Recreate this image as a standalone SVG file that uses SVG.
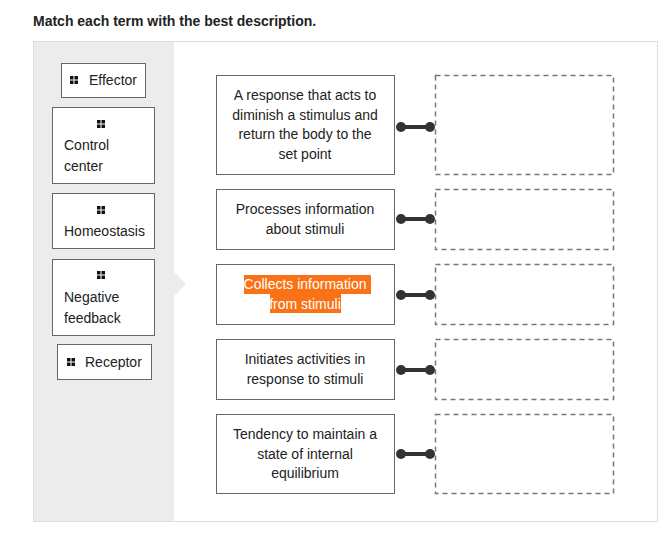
<svg xmlns="http://www.w3.org/2000/svg" width="668" height="533" viewBox="0 0 668 533">
<style>
text{font-family:"Liberation Sans",Arial,sans-serif;font-size:14px;fill:#222}
.card{fill:#fff;stroke:#666;stroke-width:1}
.drop{fill:#fff;stroke:#777;stroke-width:1.5;stroke-dasharray:5,4}
.c{text-anchor:middle}
.conn line{stroke:#333;stroke-width:4}
.conn circle{fill:#333}
</style>
<defs>
<g id="grip"><rect x="0" y="0" width="3.5" height="3.5" fill="#111"/><rect x="4.5" y="0" width="3.5" height="3.5" fill="#111"/><rect x="0" y="4.5" width="3.5" height="3.5" fill="#111"/><rect x="4.5" y="4.5" width="3.5" height="3.5" fill="#111"/></g>
</defs>
<rect width="668" height="533" fill="#fff"/>
<text x="33" y="26" style="font-weight:bold;font-size:14px">Match each term with the best description.</text>
<rect x="33.5" y="41.5" width="624" height="480" fill="#fff" stroke="#ddd"/>
<rect x="34" y="42" width="140" height="479" fill="#ececec"/>
<polygon points="174,272 186,284 174,296" fill="#ececec"/>
<g id="effector"><rect class="card" x="61.5" y="63.5" width="84" height="34"/><use href="#grip" x="70" y="76"/><text x="89" y="85">Effector</text></g>
<g id="control"><rect class="card" x="52.5" y="107.5" width="102" height="76"/><use href="#grip" x="97" y="120"/><text x="64" y="150">Control</text><text x="64" y="171">center</text></g>
<g id="homeostasis"><rect class="card" x="52.5" y="193.5" width="102" height="55"/><use href="#grip" x="97" y="206"/><text x="64" y="236">Homeostasis</text></g>
<g id="negative"><rect class="card" x="52.5" y="259.5" width="102" height="76"/><use href="#grip" x="97" y="271"/><text x="64" y="302">Negative</text><text x="64" y="323">feedback</text></g>
<g id="receptor"><rect class="card" x="57.5" y="344.5" width="94" height="35"/><use href="#grip" x="67" y="358"/><text x="85" y="367">Receptor</text></g>
<g id="d1"><rect class="card" x="216.5" y="75.5" width="178" height="99"/><text class="c" x="305" y="100">A response that acts to</text><text class="c" x="305" y="120">diminish a stimulus and</text><text class="c" x="305" y="139">return the body to the</text><text class="c" x="305" y="159">set point</text></g>
<g id="d2"><rect class="card" x="216.5" y="189.5" width="178" height="60"/><text class="c" x="305" y="214">Processes information</text><text class="c" x="305" y="234">about stimuli</text></g>
<g id="d3"><rect class="card" x="216.5" y="264.5" width="178" height="60"/><rect x="244" y="275" width="127" height="19" fill="#f97316"/><rect x="270" y="294" width="71" height="19" fill="#f97316"/><text class="c" x="305" y="289" style="fill:#fff">Collects information</text><text class="c" x="305" y="309" style="fill:#fff">from stimuli</text></g>
<g id="d4"><rect class="card" x="216.5" y="339.5" width="178" height="60"/><text class="c" x="305" y="364">Initiates activities in</text><text class="c" x="305" y="384">response to stimuli</text></g>
<g id="d5"><rect class="card" x="216.5" y="414.5" width="178" height="79"/><text class="c" x="305" y="439">Tendency to maintain a</text><text class="c" x="305" y="459">state of internal</text><text class="c" x="305" y="478">equilibrium</text></g>
<g id="t1"><rect class="drop" x="435.5" y="75.5" width="178" height="99"/></g>
<g id="t2"><rect class="drop" x="435.5" y="189.5" width="178" height="60"/></g>
<g id="t3"><rect class="drop" x="435.5" y="264.5" width="178" height="60"/></g>
<g id="t4"><rect class="drop" x="435.5" y="339.5" width="178" height="60"/></g>
<g id="t5"><rect class="drop" x="435.5" y="414.5" width="178" height="79"/></g>
<g class="conn" id="connectors">
<line x1="401" y1="127" x2="430" y2="127"/><circle cx="401" cy="127" r="5"/><circle cx="430" cy="127" r="5"/>
<line x1="401" y1="219" x2="430" y2="219"/><circle cx="401" cy="219" r="5"/><circle cx="430" cy="219" r="5"/>
<line x1="401" y1="295" x2="430" y2="295"/><circle cx="401" cy="295" r="5"/><circle cx="430" cy="295" r="5"/>
<line x1="401" y1="370" x2="430" y2="370"/><circle cx="401" cy="370" r="5"/><circle cx="430" cy="370" r="5"/>
<line x1="401" y1="454" x2="430" y2="454"/><circle cx="401" cy="454" r="5"/><circle cx="430" cy="454" r="5"/>
</g>
</svg>
